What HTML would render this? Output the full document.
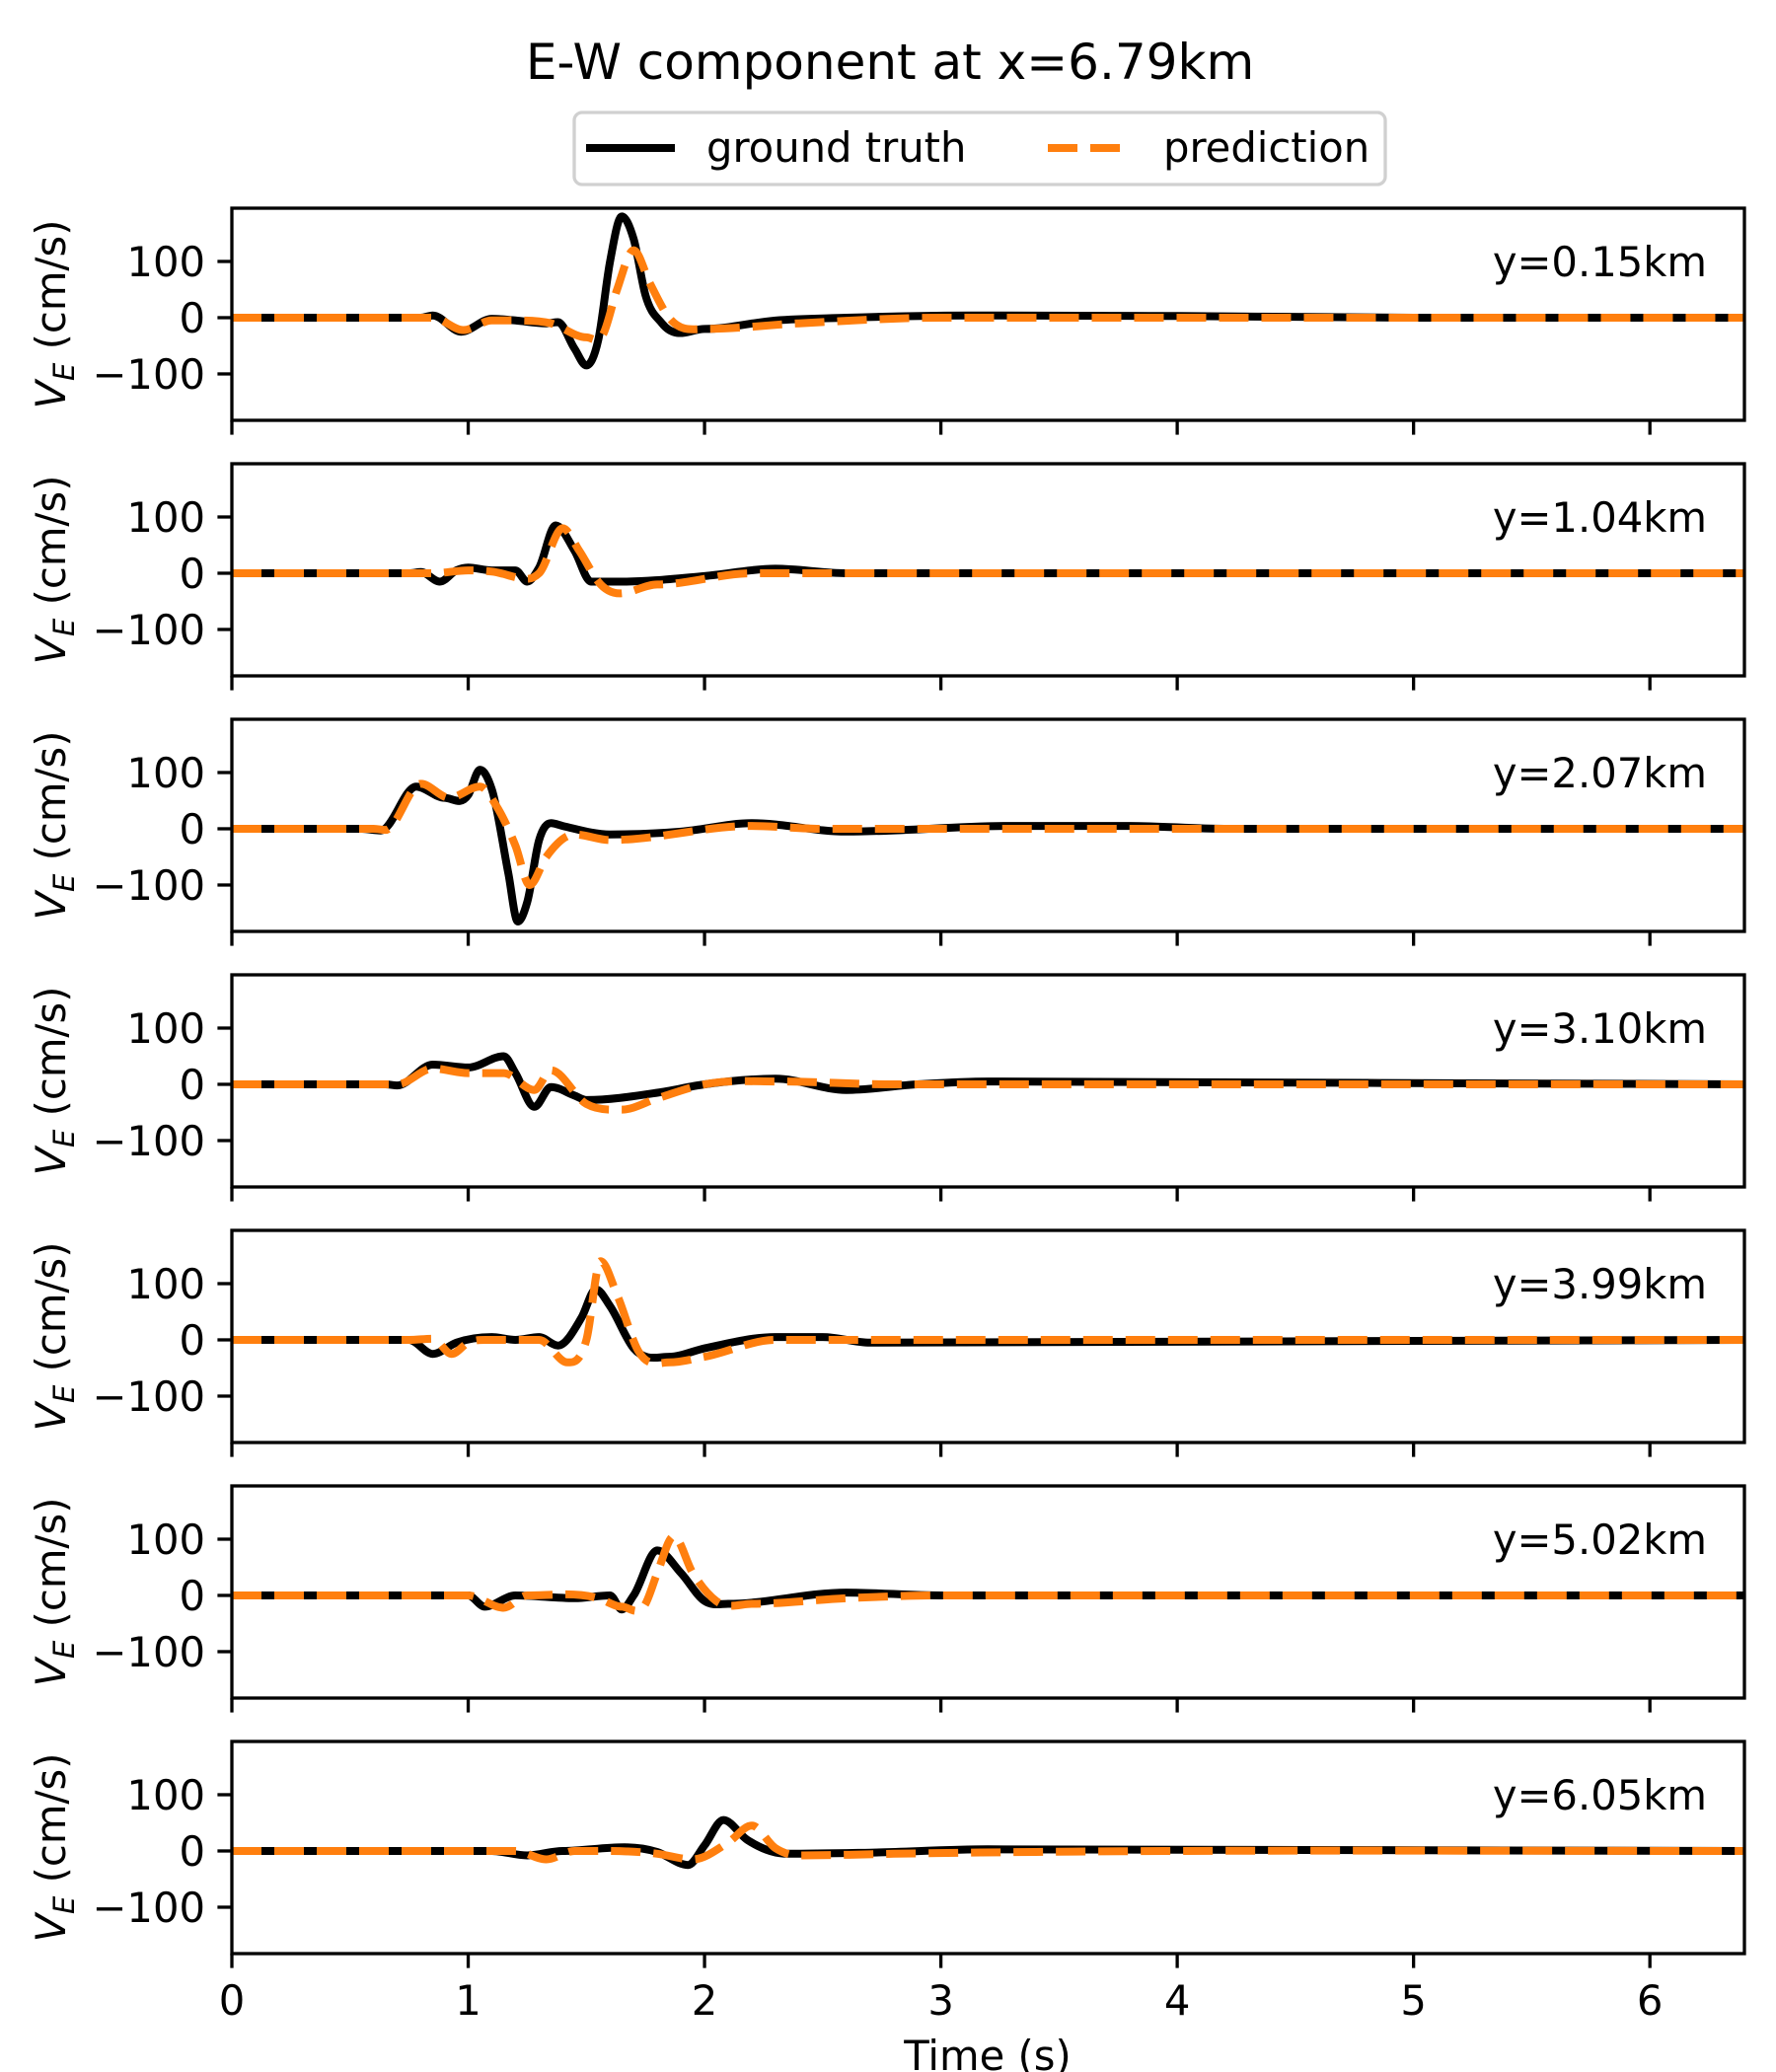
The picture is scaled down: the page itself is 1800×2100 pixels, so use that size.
<!DOCTYPE html>
<html><head><meta charset="utf-8"><style>
html,body{margin:0;padding:0;background:#fff;}
svg{display:block;font-family:"DejaVu Sans","Liberation Sans",sans-serif;}
</style></head><body>
<svg id="fig" width="1800" height="2100" viewBox="0 0 1800 2100" xmlns="http://www.w3.org/2000/svg">
<rect width="1800" height="2100" fill="#fff"/>
<text x="902" y="80" font-size="50" text-anchor="middle">E-W component at x=6.79km</text>
<g>
<rect x="582" y="114" width="822" height="73" rx="8" fill="#fff" stroke="#d0d0d0" stroke-width="3.3"/>
<line x1="594" y1="150" x2="684" y2="150" stroke="#000" stroke-width="8"/>
<text x="716" y="164" font-size="41.7">ground truth</text>
<line x1="1062" y1="150" x2="1142" y2="150" stroke="#ff7f0e" stroke-width="8" stroke-dasharray="30 13"/>
<text x="1179" y="164" font-size="41.7">prediction</text>
</g>
<g id="panels"></g>
<text x="1001" y="2098" font-size="41.7" text-anchor="middle">Time (s)</text>
</svg>
<script>
const panelLabels = ["y=0.15km","y=1.04km","y=2.07km","y=3.10km","y=3.99km","y=5.02km","y=6.05km"];
const xTicks = [0,1,2,3,4,5,6];
const yTicks = [-100,0,100];
const yTickLabels = ["\u2212100","0","100"];
const gtT = [
 [0,0.8,0.85,0.97,1.1,1.2,1.33,1.38,1.45,1.5,1.55,1.6,1.65,1.7,1.75,1.82,2.0,2.3,2.6,4,5,6.4],
 [0,0.75,0.8,0.88,0.95,1.0,1.1,1.2,1.25,1.3,1.37,1.45,1.52,1.65,2,2.3,2.6,6.4],
 [0,0.55,0.63,0.78,0.9,1.0,1.05,1.1,1.17,1.21,1.25,1.3,1.35,1.4,1.6,1.9,2.2,2.6,3.3,3.8,4.2,6.4],
 [0,0.65,0.7,0.85,1.0,1.15,1.2,1.28,1.35,1.45,1.5,1.8,2.0,2.3,2.6,2.9,3.2,6.4],
 [0,0.75,0.85,0.95,1.1,1.2,1.3,1.38,1.48,1.54,1.6,1.7,1.85,2.0,2.3,2.5,2.7,6.4],
 [0,0.9,1.0,1.07,1.2,1.45,1.6,1.65,1.7,1.8,1.9,2.0,2.1,2.6,3,6.4],
 [0,1.1,1.25,1.4,1.8,1.93,2.0,2.08,2.18,2.35,2.7,3.2,6.4]
];
const gtV = [
 [0,0,4,-25,-2,-5,-10,-8,-55,-85,-40,100,180,140,40,-10,-20,-5,0,3,0,0],
 [0,0,2,-15,5,10,5,5,-15,10,85,40,-15,-15,-5,8,0,0],
 [0,0,-3,75,55,60,105,70,-80,-165,-130,-20,10,5,-10,-5,10,-5,5,5,0,0],
 [0,0,-2,35,30,50,20,-40,-5,-20,-28,-15,0,10,-10,0,5,0],
 [0,0,-25,-5,5,0,5,-10,40,90,60,-15,-30,-15,5,5,-5,0],
 [0,0,0,-20,0,-5,0,-25,0,80,40,-10,-15,5,0,0],
 [0,0,-8,0,-2,-25,10,55,20,-5,-3,3,0]
];
const prT = [
 [0,0.85,0.98,1.1,1.2,1.35,1.5,1.57,1.63,1.7,1.77,1.85,2,2.4,3,6.4],
 [0,0.85,1.0,1.1,1.25,1.3,1.4,1.47,1.55,1.8,2.2,6.4],
 [0,0.6,0.65,0.8,0.92,1.05,1.12,1.2,1.26,1.33,1.45,1.6,2.2,2.5,6.4],
 [0,0.7,0.85,1.0,1.15,1.28,1.35,1.5,1.65,1.8,2.0,2.3,2.8,6.4],
 [0,0.75,0.85,0.93,1.0,1.1,1.3,1.42,1.5,1.56,1.63,1.72,1.85,2.0,2.3,6.4],
 [0,1.0,1.15,1.25,1.55,1.65,1.75,1.8,1.87,1.95,2.05,2.2,2.6,3,6.4],
 [0,1.2,1.33,1.45,1.8,1.95,2.1,2.2,2.3,2.4,2.8,6.4]
];
const prV = [
 [0,0,-22,-5,-5,-10,-35,-30,50,120,60,0,-20,-10,0,0],
 [0,0,5,3,-10,0,80,40,-15,-20,0,0],
 [0,0,-2,80,55,75,40,-30,-100,-50,-10,-20,5,0,0],
 [0,0,28,20,20,-10,25,-35,-45,-25,0,5,0,0],
 [0,0,2,-25,-5,0,0,-40,0,140,80,-20,-40,-30,0,0],
 [0,0,-22,0,-5,-20,-15,40,105,40,-10,-15,-5,0,0],
 [0,0,-15,0,-5,-15,15,45,5,-8,-5,0]
];
const NS="http://www.w3.org/2000/svg";
const L=235,R=1768,H=215,tops=[211,470,729,988,1247,1506,1765];
const xMin=0,xMax=6.4,yMin=-182.5,yMax=194.7;
function X(t){return L+(t-xMin)/(xMax-xMin)*(R-L);}
function Y(v,top){return top+(yMax-v)/(yMax-yMin)*H;}
function mk(tag,attrs,parent){const e=document.createElementNS(NS,tag);for(const k in attrs)e.setAttribute(k,attrs[k]);parent.appendChild(e);return e;}
function pathD(ts,vs,top){
 const n=ts.length, m=[];
 for(let i=0;i<n;i++){
  if(i===0||i===n-1){m.push(0);continue;}
  const s0=(vs[i]-vs[i-1])/(ts[i]-ts[i-1]), s1=(vs[i+1]-vs[i])/(ts[i+1]-ts[i]);
  if(s0*s1<=0){m.push(0);continue;}
  const w0=ts[i+1]-ts[i], w1=ts[i]-ts[i-1];
  m.push((w0*s0+w1*s1)/(w0+w1));
 }
 let d="M"+X(ts[0]).toFixed(1)+","+Y(vs[0],top).toFixed(1);
 for(let i=0;i<n-1;i++){
  const dt=ts[i+1]-ts[i];
  const c1t=ts[i]+dt/3, c1v=vs[i]+m[i]*dt/3;
  const c2t=ts[i+1]-dt/3, c2v=vs[i+1]-m[i+1]*dt/3;
  d+=" C"+X(c1t).toFixed(1)+","+Y(c1v,top).toFixed(1)+" "+X(c2t).toFixed(1)+","+Y(c2v,top).toFixed(1)+" "+X(ts[i+1]).toFixed(1)+","+Y(vs[i+1],top).toFixed(1);
 }
 return d;
}
const root=document.getElementById('panels');
for(let k=0;k<7;k++){
 const top=tops[k];
 const g=mk('g',{},root);
 
 
 const cp=mk('clipPath',{id:'c'+k},g);
 mk('rect',{x:L,y:top,width:R-L,height:H},cp);
 const gt=mk('path',{d:pathD(gtT[k],gtV[k],top),fill:'none',stroke:'#000','stroke-width':8,'stroke-linejoin':'round','clip-path':'url(#c'+k+')'},g);
 
 
 const pr=mk('path',{d:pathD(prT[k],prV[k],top),fill:'none',stroke:'#ff7f0e','stroke-width':8,'stroke-dasharray':'30 13','clip-path':'url(#c'+k+')'},g);
 
 
 const fr=mk('rect',{x:L,y:top,width:R-L,height:H,fill:'none',stroke:'#000','stroke-width':3.3},g);
 
 
 yTicks.forEach((v,i)=>{
  const y=Y(v,top);
  const tk=mk('line',{x1:L-14.6,x2:L,y1:y,y2:y,stroke:'#000','stroke-width':3.3},g);
  
  
  const tx=mk('text',{x:L-27,y:y+15,'font-size':41.7,'text-anchor':'end'},g);
  tx.textContent=yTickLabels[i];
  
  
 });
 xTicks.forEach(t=>{
  const x=X(t);
  const tk=mk('line',{x1:x,x2:x,y1:top+H,y2:top+H+14.6,stroke:'#000','stroke-width':3.3},g);
  
  
  if(k===6){
   const tx=mk('text',{x:x,y:top+H+62,'font-size':41.7,'text-anchor':'middle'},g);
   tx.textContent=String(t);
   
   
  }
 });
 const yl=mk('text',{transform:'translate(66,'+(top+H/2)+') rotate(-90)','font-size':41.7,'text-anchor':'middle'},g);
 yl.innerHTML='<tspan font-style="italic">V</tspan><tspan font-style="italic" font-size="29" dy="9">E</tspan><tspan dy="-9"> (cm/s)</tspan>';
 
 
 const pl=mk('text',{x:1730,y:top+69,'font-size':41.7,'text-anchor':'end'},g);
 pl.textContent=panelLabels[k];
 
 
}
</script>
</body></html>
